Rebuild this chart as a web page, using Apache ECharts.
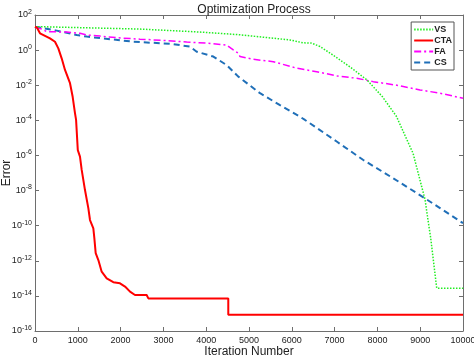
<!DOCTYPE html>
<html>
<head>
<meta charset="utf-8">
<script src="https://cdn.jsdelivr.net/npm/echarts@6/dist/echarts.min.js"></script>
<style>html,body{margin:0;padding:0;background:#fff}#c{width:474px;height:357px}</style>
</head>
<body>
<div id="c"></div>
<script>
var seriesNames = ['VS', 'CTA', 'FA', 'CS'];
var xTicks = [0, 1000, 2000, 3000, 4000, 5000, 6000, 7000, 8000, 9000, 10000];
var yTickExponents = [2, 0, -2, -4, -6, -8, -10, -12, -14, -16];

var vsIter = [0, 195, 2453, 3855, 4750, 5958, 6262, 6465, 6659, 6963, 7360, 7757, 8118, 8451, 8481, 8832, 9035, 9112, 9182, 9245, 9386, 10000];
var vsErr  = [21.4, 21.4, 15.8, 10.7, 7.6, 3.8, 2.6, 2.5, 1.6, 0.52, 0.11, 0.02, 2.2e-3, 1.6e-4, 1.05e-4, 1.35e-6, 1.66e-8, 3.2e-9, 2.1e-10, 2e-11, 2.75e-14, 2.75e-14];

var ctaIter = [0, 47, 117, 350, 467, 545, 623, 701, 818, 880, 935, 960, 1000, 1051, 1091, 1168, 1246, 1285, 1363, 1386, 1418, 1480, 1558, 1675, 1830, 1986, 2103, 2220, 2336, 2609, 2648, 4516, 4516, 10000];
var ctaErr  = [21.4, 19, 9.1, 4.7, 3.0, 1.26, 0.34, 0.074, 0.013, 2.2e-3, 2.5e-4, 1.05e-4, 2e-6, 8.5e-7, 1.5e-7, 1.07e-8, 1e-9, 2.1e-10, 7e-11, 2e-11, 2.7e-12, 1.1e-12, 2.4e-13, 1.0e-13, 6e-14, 5.2e-14, 3.4e-14, 1.74e-14, 1.12e-14, 1.12e-14, 7.2e-15, 7.2e-15, 8.3e-16, 8.3e-16];

var faIter = [0, 187, 273, 741, 1051, 1208, 1519, 1909, 2453, 3077, 3544, 4012, 4479, 4633, 4750, 4790, 5100, 5568, 6114, 6582, 7049, 7516, 7904, 8451, 8995, 9463, 10000];
var faErr  = [20, 15.1, 11.2, 10.7, 9.1, 7.2, 6.3, 5.1, 4.2, 3.5, 2.9, 2.5, 1.95, 1.02, 0.66, 0.43, 0.30, 0.22, 0.093, 0.059, 0.034, 0.025, 0.016, 0.010, 5.4e-3, 3.5e-3, 1.8e-3];

var csIter = [0, 507, 974, 1208, 1752, 2297, 2764, 3231, 3621, 3778, 4166, 4479, 4750, 4790, 5257, 5724, 6192, 6308, 7049, 7671, 8371, 9112, 9463, 10000];
var csErr  = [21.4, 12.9, 7.2, 5.9, 4.2, 3.0, 2.6, 2.2, 1.58, 0.81, 0.43, 0.14, 0.031, 0.025, 3.5e-3, 7.4e-4, 1.6e-4, 1.05e-4, 6.2e-6, 5.5e-7, 5e-8, 3.6e-9, 1e-9, 1.4e-10];

function pairs(xs, ys) { return xs.map(function (x, i) { return [x, ys[i]]; }); }

var FONT = 'Liberation Sans, Arial, sans-serif';
var axisCol = '#6e6e6e';
var txtCol = '#222';

function yLabel(v) {
  var e = Math.round(Math.log10(v));
  return '{a|10}{b|' + e + '}';
}

var chart = echarts.init(document.getElementById('c'));
chart.setOption({
  animation: false,
  backgroundColor: '#fff',
  title: {
    text: 'Optimization Process', left: 249, top: -1, textAlign: 'center',
    textStyle: { fontFamily: FONT, fontSize: 12, fontWeight: 'normal', color: txtCol }
  },
  grid: { left: 35, right: 11, top: 15, bottom: 26, containLabel: false, outerBoundsMode: 'none' },
  legend: {
    data: seriesNames, orient: 'vertical', right: 20, top: 22,
    itemWidth: 19, itemHeight: 8, itemGap: 2,
    itemStyle: { opacity: 0 },
    padding: [3, 2, 3, 2],
    borderColor: '#555', borderWidth: 1, backgroundColor: '#fff',
    textStyle: { fontFamily: FONT, fontSize: 9, fontWeight: 'bold', color: txtCol, padding: [0, 0, 0, -4] }
  },
  xAxis: [{
    type: 'value', min: 0, max: 10000, interval: 1000,
    name: 'Iteration Number', nameLocation: 'middle', nameGap: 15, nameMoveOverlap: false,
    nameTextStyle: { fontFamily: FONT, fontSize: 12, color: txtCol },
    axisLine: { show: true, onZero: false, lineStyle: { color: axisCol, width: 1 } },
    axisTick: { show: true, inside: true, length: 4, lineStyle: { color: axisCol } },
    axisLabel: { fontFamily: FONT, fontSize: 9, color: txtCol, margin: 5, formatter: function (v) { return String(v); } },
    splitLine: { show: false }
  }, {
    type: 'value', min: 0, max: 10000, interval: 1000, position: 'top',
    axisLine: { show: true, onZero: false, lineStyle: { color: axisCol, width: 1 } },
    axisTick: { show: true, inside: true, length: 4, lineStyle: { color: axisCol } },
    axisLabel: { show: false }, splitLine: { show: false }
  }],
  yAxis: [{
    type: 'log', logBase: 10, min: 1e-16, max: 1e2, interval: 2,
    name: 'Error', nameLocation: 'middle', nameGap: 22, nameRotate: 90, nameMoveOverlap: false,
    nameTextStyle: { fontFamily: FONT, fontSize: 12, color: txtCol },
    axisLine: { show: true, onZero: false, lineStyle: { color: axisCol, width: 1 } },
    axisTick: { show: true, inside: true, length: 4, lineStyle: { color: axisCol } },
    axisLabel: {
      formatter: yLabel, margin: 3,
      rich: {
        a: { fontFamily: FONT, fontSize: 9, color: txtCol },
        b: { fontFamily: FONT, fontSize: 7, color: txtCol, padding: [0, 0, 6, 0] }
      }
    },
    splitLine: { show: false }, minorTick: { show: false }
  }, {
    type: 'log', logBase: 10, min: 1e-16, max: 1e2, interval: 2, position: 'right',
    axisLine: { show: true, onZero: false, lineStyle: { color: axisCol, width: 1 } },
    axisTick: { show: true, inside: true, length: 4, lineStyle: { color: axisCol } },
    axisLabel: { show: false }, splitLine: { show: false }
  }],
  series: [{
    name: 'VS', type: 'line', data: pairs(vsIter, vsErr), showSymbol: false, symbol: 'none',
    lineStyle: { color: '#22ee22', width: 1.5, type: [1.5, 1.5] }, itemStyle: { color: '#22ee22' }, z: 3
  }, {
    name: 'CTA', type: 'line', data: pairs(ctaIter, ctaErr), showSymbol: false, symbol: 'none',
    lineStyle: { color: '#ff0000', width: 2, type: 'solid' }, itemStyle: { color: '#ff0000' }, z: 4
  }, {
    name: 'FA', type: 'line', data: pairs(faIter, faErr), showSymbol: false, symbol: 'none',
    lineStyle: { color: '#ff00ff', width: 1.5, type: [7, 3, 2, 3] }, itemStyle: { color: '#ff00ff' }, z: 2
  }, {
    name: 'CS', type: 'line', data: pairs(csIter, csErr), showSymbol: false, symbol: 'none',
    lineStyle: { color: '#1f6fb8', width: 2, type: [6, 4] }, itemStyle: { color: '#1f6fb8' }, z: 1
  }]
});
</script>
</body>
</html>
